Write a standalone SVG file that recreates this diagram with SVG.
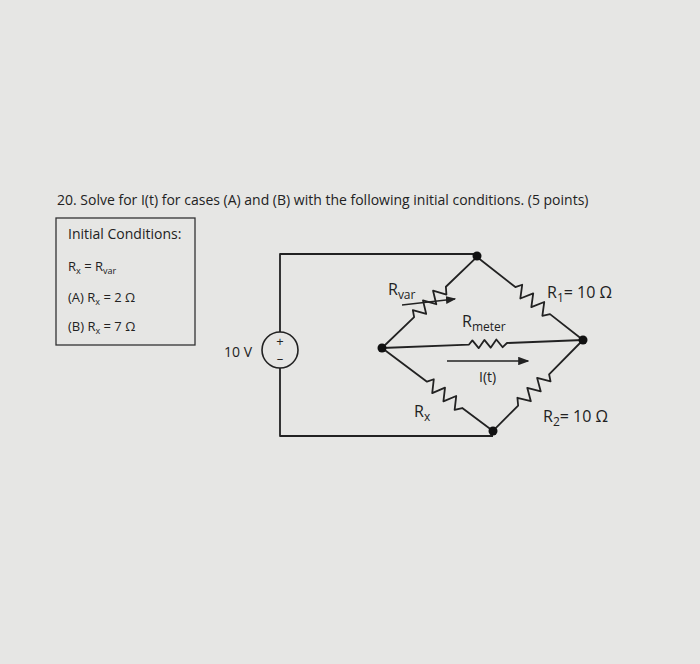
<svg xmlns="http://www.w3.org/2000/svg" width="700" height="664" viewBox="0 0 700 664">
<defs>
<marker id="ah" markerWidth="8" markerHeight="6" refX="7" refY="3" orient="auto"><path d="M0,0 L8,3 L0,6z" fill="#222"/></marker>
</defs>
<style>
text{font-family:"Open Sans","Liberation Sans",sans-serif;fill:#222}
.w{fill:none;stroke:#222;stroke-width:1.8;stroke-linejoin:round}
.n{fill:#111}
</style>
<rect width="700" height="664" fill="#e6e6e4"/>
<text x="57" y="205" font-size="14">20. Solve for I(t) for cases (A) and (B) with the following initial conditions. (5 points)</text>
<g id="box">
<rect x="56" y="218" width="139" height="127" fill="none" stroke="#333" stroke-width="1.3"/>
<text x="68" y="239" font-size="14">Initial Conditions:</text>
<text x="68" y="271" font-size="13">R<tspan font-size="9" dy="3">x</tspan><tspan dy="-3"> = R</tspan><tspan font-size="9" dy="3">var</tspan></text>
<text x="68" y="302" font-size="13">(A) R<tspan font-size="9" dy="3">x</tspan><tspan dy="-3"> = 2 Ω</tspan></text>
<text x="68" y="331" font-size="13">(B) R<tspan font-size="9" dy="3">x</tspan><tspan dy="-3"> = 7 Ω</tspan></text>
</g>
<g id="connectors">
<path class="w" d="M477,254 L280,254 L280,332 M280,368 L280,436 L493,436"/>
<line x1="447" y1="361" x2="528" y2="361" stroke="#222" stroke-width="1.4" marker-end="url(#ah)"/>
</g>
<g id="source">
<circle cx="280" cy="350" r="18" fill="none" stroke="#222" stroke-width="1.6"/>
<text x="280" y="346" font-size="13" text-anchor="middle">+</text>
<text x="280" y="363" font-size="13" text-anchor="middle">–</text>
<text x="224" y="357" font-size="14">10 V</text>
</g>
<g id="Rvar"><path class="w" transform="translate(382,348) rotate(-43.8)" d="M0,0 L44.5,0 L48.5,-6 L55.5,6 L62.5,-6 L69.5,6 L76.5,-6 L83.5,6 L88.5,0 L131.6,0"/>
<line x1="402" y1="305" x2="455" y2="299" stroke="#222" stroke-width="1.3" marker-end="url(#ah)"/>
<text x="388" y="295" font-size="16">R<tspan font-size="12" dy="4">var</tspan></text></g>
<g id="R1"><path class="w" transform="translate(477,257) rotate(38.06)" d="M0,0 L48.7,0 L52.7,-6 L59.7,6 L66.7,-6 L73.7,6 L80.7,-6 L87.7,6 L92.7,0 L134.6,0"/>
<text x="547" y="298" font-size="16">R<tspan font-size="12" dy="4">1</tspan><tspan dy="-4">= 10 Ω</tspan></text></g>
<g id="Rmeter"><path class="w" transform="translate(382,348) rotate(-2.28)" d="M0,0 L87.1,0 L90.6,-4 L96.6,4 L102.6,-4 L108.6,4 L114.6,-4 L120.6,4 L125.1,0 L201.2,0"/>
<text x="462" y="327" font-size="16">R<tspan font-size="12" dy="4">meter</tspan></text>
<text x="479" y="382" font-size="14">I(t)</text></g>
<g id="Rx"><path class="w" transform="translate(382,348) rotate(36.8)" d="M0,0 L56.2,0 L60.2,-6 L67.2,6 L74.2,-6 L81.2,6 L88.2,-6 L95.2,6 L100.2,0 L138.6,0"/>
<text x="414" y="417" font-size="16">R<tspan font-size="12" dy="4">x</tspan></text></g>
<g id="R2"><path class="w" transform="translate(583,340) rotate(134.7)" d="M0,0 L48.2,0 L52.2,-6 L59.2,6 L66.2,-6 L73.2,6 L80.2,-6 L87.2,6 L92.2,0 L128,0"/>
<text x="543" y="422" font-size="16">R<tspan font-size="12" dy="4">2</tspan><tspan dy="-4">= 10 Ω</tspan></text></g>
<g id="nodes">
<circle class="n" cx="477" cy="256" r="4.5"/><circle class="n" cx="382" cy="348" r="4.5"/>
<circle class="n" cx="583" cy="340" r="4.5"/><circle class="n" cx="493" cy="431" r="4.5"/>
</g>
</svg>
